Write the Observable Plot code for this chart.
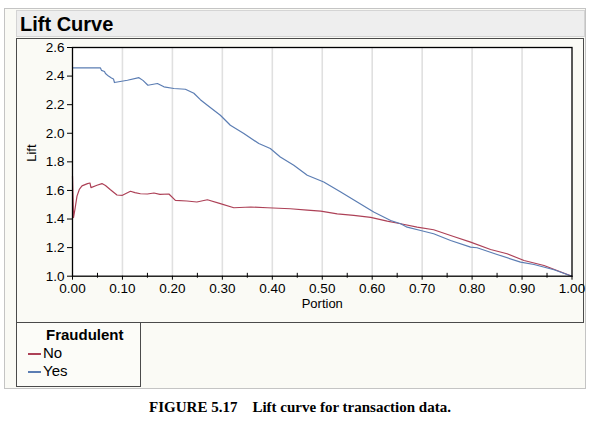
<!DOCTYPE html>
<html><head><meta charset="utf-8">
<script src="https://cdn.jsdelivr.net/npm/d3@7"></script>
<script src="https://cdn.jsdelivr.net/npm/@observablehq/plot@0.6"></script>
<style>
body{margin:0;background:#fff;font-family:"Liberation Sans",Arial,sans-serif;}
#wrap{position:relative;width:606px;height:434px;overflow:hidden;}
.abs{position:absolute;box-sizing:border-box;}
</style></head><body>
<div id="wrap">
 <div class="abs" style="left:4px;top:8px;width:582px;height:381px;border:1px solid #c4c4c4;background:#fafaf5"></div>
 <div class="abs" style="left:16px;top:10px;width:569px;height:27px;background:#eeeeee;border:1px solid #d4d4d4;"></div>
 <div class="abs" style="left:20px;top:12px;font-weight:bold;font-size:20px;line-height:24px;color:#000">Lift Curve</div>
 <div class="abs" style="left:16px;top:38px;width:568px;height:285px;border:1.5px solid #4a4a4a;background:#fafaf5"></div>
 <div id="chart" class="abs" style="left:0;top:38px;"></div>
 <div id="legend" class="abs" style="left:16px;top:321.5px;width:125px;height:65px;border:1.5px solid #4a4a4a;background:#fcfcf8"></div>
 <div class="abs" style="left:0;width:600px;top:398px;text-align:center;font-family:'Liberation Serif','Times New Roman',serif;font-weight:bold;font-size:15px;line-height:18px;color:#000"><span style="font-weight:900">FIGURE 5.17</span>&nbsp;&nbsp;&nbsp;&nbsp;Lift curve for transaction data.</div>
</div>
<script>
const seriesNames = ["No", "Yes"];
const seriesColors = ["#ad4157", "#5b7db3"];
const legendTitle = "Fraudulent";

const portionNo = [0.000,0.002,0.005,0.009,0.014,0.019,0.030,0.035,0.037,0.049,0.059,0.066,0.076,0.089,0.100,0.116,0.125,0.136,0.150,0.163,0.175,0.193,0.206,0.229,0.249,0.270,0.296,0.323,0.357,0.390,0.436,0.470,0.497,0.530,0.563,0.597,0.630,0.657,0.690,0.723,0.763,0.797,0.837,0.870,0.904,0.944,1.000];
const liftNo    = [1.700,1.410,1.470,1.560,1.610,1.632,1.648,1.652,1.620,1.636,1.648,1.635,1.605,1.568,1.566,1.594,1.585,1.577,1.575,1.582,1.572,1.575,1.530,1.526,1.519,1.535,1.508,1.479,1.484,1.479,1.472,1.462,1.455,1.436,1.426,1.411,1.385,1.367,1.343,1.325,1.278,1.238,1.187,1.157,1.110,1.075,1.000];

const portionYes = [0.000,0.056,0.058,0.064,0.066,0.072,0.078,0.082,0.084,0.110,0.133,0.141,0.151,0.170,0.183,0.203,0.226,0.243,0.256,0.270,0.296,0.316,0.343,0.373,0.396,0.416,0.443,0.470,0.503,0.537,0.570,0.603,0.637,0.657,0.670,0.697,0.723,0.757,0.797,0.810,0.850,0.897,0.924,0.964,1.000];
const liftYes    = [2.457,2.457,2.440,2.432,2.418,2.400,2.387,2.380,2.355,2.371,2.389,2.370,2.336,2.348,2.325,2.313,2.308,2.280,2.235,2.196,2.126,2.056,1.998,1.928,1.893,1.834,1.776,1.706,1.659,1.589,1.519,1.449,1.390,1.367,1.343,1.320,1.297,1.250,1.203,1.199,1.152,1.098,1.082,1.045,1.000];

const xTicks = [0,0.1,0.2,0.3,0.4,0.5,0.6,0.7,0.8,0.9,1.0];
const xMinorTicks = [0.05,0.15,0.25,0.35,0.45,0.55,0.65,0.75,0.85,0.95];
const yTicks = [1.0,1.2,1.4,1.6,1.8,2.0,2.2,2.4,2.6];

const data = [
  ...portionNo.map((p, i) => ({portion: p, lift: liftNo[i], Fraudulent: seriesNames[0]})),
  ...portionYes.map((p, i) => ({portion: p, lift: liftYes[i], Fraudulent: seriesNames[1]}))
];

const chart = Plot.plot({
  width: 606, height: 284,
  marginLeft: 72, marginRight: 34.5, marginTop: 9, marginBottom: 46.3,
  style: {background: "transparent", fontFamily: "'Liberation Sans', Arial, sans-serif", fontSize: "13px", color: "#000", overflow: "visible"},
  x: {domain: [0, 1]},
  y: {domain: [1, 2.6]},
  color: {domain: seriesNames, range: seriesColors},
  marks: [
    Plot.frame({fill: "white", stroke: null}),
    Plot.ruleX(xTicks.slice(1, -1), {stroke: "#e0e0e0", strokeWidth: 1.6}),
    Plot.line(data, {x: "portion", y: "lift", z: "Fraudulent", stroke: "Fraudulent", strokeWidth: 1.2}),
    Plot.frame({stroke: "#000", strokeWidth: 1.3}),
    Plot.ruleX(xMinorTicks, {y1: 0.986, y2: 1.02, stroke: "#000", strokeWidth: 1}),
    Plot.axisX(xTicks, {tickFormat: d => d.toFixed(2), tickSize: 4, tickPadding: 3, label: null, fontSize: 13.5}),
    Plot.axisY(yTicks, {tickFormat: d => d.toFixed(1), tickSize: 5, tickPadding: 3, label: null, fontSize: 13.5}),
    Plot.text(["Lift"], {text: d => d, frameAnchor: "left", dx: -41, rotate: -90, fontSize: 13}),
    Plot.text(["Portion"], {text: d => d, frameAnchor: "bottom", dy: 32, fontSize: 13})
  ]
});
document.getElementById("chart").appendChild(chart);

const legend = document.getElementById("legend");
const t = document.createElement("div");
t.textContent = legendTitle;
t.style.cssText = "position:absolute;left:29px;top:3px;font-weight:bold;font-size:15px;line-height:18px;";
legend.appendChild(t);
seriesNames.forEach((name, i) => {
  const row = document.createElement("div");
  row.style.cssText = `position:absolute;left:11px;top:${21 + i * 18}px;font-size:15px;line-height:18px;white-space:nowrap;`;
  const sw = document.createElement("span");
  sw.style.cssText = `display:inline-block;width:13px;height:2px;background:${seriesColors[i]};vertical-align:middle;margin-right:2px;`;
  row.appendChild(sw);
  row.appendChild(document.createTextNode(name));
  legend.appendChild(row);
});
</script>
</body></html>
